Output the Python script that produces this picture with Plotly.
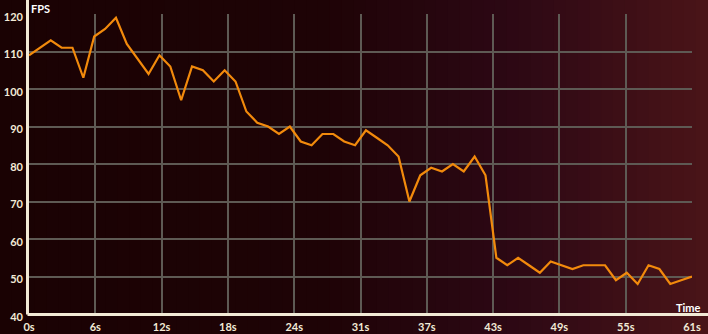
import plotly.graph_objects as go

seconds = list(range(62))
fps = [109, 111, 113, 111, 111, 103, 114, 116, 119, 112, 108, 104, 109, 106, 97, 106, 105, 102, 105, 102,
       94, 91, 90, 88, 90, 86, 85, 88, 88, 86, 85, 89, 87, 85, 82, 70, 77, 79, 78, 80, 78, 82, 77,
       55, 53, 55, 53, 51, 54, 53, 52, 53, 53, 53, 49, 51, 48, 53, 52, 48, 49, 50]
tick_vals = [i * 6.1 for i in range(11)]
tick_text = ["0s", "6s", "12s", "18s", "24s", "31s", "37s", "43s", "49s", "55s", "61s"]

W, H = 708, 334
ML, MR, MT, MB = 29, 16, 14, 20
PW, PH = W - ML - MR, H - MT - MB

fig = go.Figure()
fig.add_trace(go.Scatter(x=seconds, y=fps, mode="lines",
                         line=dict(color="#f28a0c", width=2.2), hoverinfo="skip"))

def lerp(c1, c2, t):
    return tuple(int(round(a + (b - a) * t)) for a, b in zip(c1, c2))

stops = [(0.0, (26, 2, 3)), (0.45, (30, 3, 6)), (0.72, (44, 8, 20)), (1.0, (74, 20, 24))]
n = 60
shapes = []
for i in range(n):
    x0, x1 = i / n, (i + 1) / n
    xm = (x0 + x1) / 2
    for j in range(len(stops) - 1):
        if stops[j][0] <= xm <= stops[j + 1][0]:
            t = (xm - stops[j][0]) / (stops[j + 1][0] - stops[j][0])
            c = lerp(stops[j][1], stops[j + 1][1], t)
            break
    fx0 = (x0 * W - ML) / PW
    fx1 = (x1 * W - ML) / PW
    shapes.append(dict(type="rect", xref="paper", yref="paper", x0=fx0 - 0.001, x1=fx1 + 0.001,
                       y0=-MB / PH - 0.01, y1=1 + MT / PH + 0.01, fillcolor="rgb(%d,%d,%d)" % c,
                       line=dict(width=0), layer="below"))

cream = "#f2ead6"
yb = -0.5 / PH
xl = -1.5 / PW
shapes.append(dict(type="line", xref="paper", yref="paper", x0=xl, x1=(W - ML + 2) / PW,
                   y0=yb, y1=yb, line=dict(color=cream, width=3), layer="above"))
shapes.append(dict(type="line", xref="paper", yref="paper", x0=xl, x1=xl,
                   y0=yb, y1=1 + (MT + 2) / PH, line=dict(color=cream, width=3), layer="above"))

fig.update_layout(
    width=W, height=H,
    margin=dict(l=ML, r=MR, t=MT, b=MB, autoexpand=False),
    paper_bgcolor="#1a0203",
    plot_bgcolor="rgba(0,0,0,0)",
    showlegend=False,
    shapes=shapes,
    font=dict(family="Lato", color=cream, size=11),
    xaxis=dict(range=[0, 61], tickvals=tick_vals, ticktext=tick_text, showgrid=True,
               gridcolor="#5e5a54", gridwidth=2, zeroline=False, showline=False, ticks="",
               automargin=False, ticklabelstandoff=5,
               tickfont=dict(family="Lato", size=11, color=cream, weight="bold")),
    yaxis=dict(range=[40, 120], dtick=10, showgrid=True, gridcolor="#5e5a54", gridwidth=2,
               zeroline=False, showline=False, ticks="", automargin=False, ticklabelstandoff=5,
               ticklabelshift=3,
               tickfont=dict(family="Lato", size=11, color=cream, weight="bold")),
    annotations=[
        dict(text="FPS", xref="paper", yref="paper", x=0.0, y=1 + MT / PH, xanchor="left",
             yanchor="top", showarrow=False, font=dict(family="Lato", size=11, color="#ffffff", weight="bold")),
        dict(text="Time", xref="paper", yref="paper", x=1 + 11 / PW, y=(314 - 299) / PH, xanchor="right",
             yanchor="top", showarrow=False, font=dict(family="Lato", size=11, color="#ffffff", weight="bold")),
    ],
)

fig.write_html("out.html")
